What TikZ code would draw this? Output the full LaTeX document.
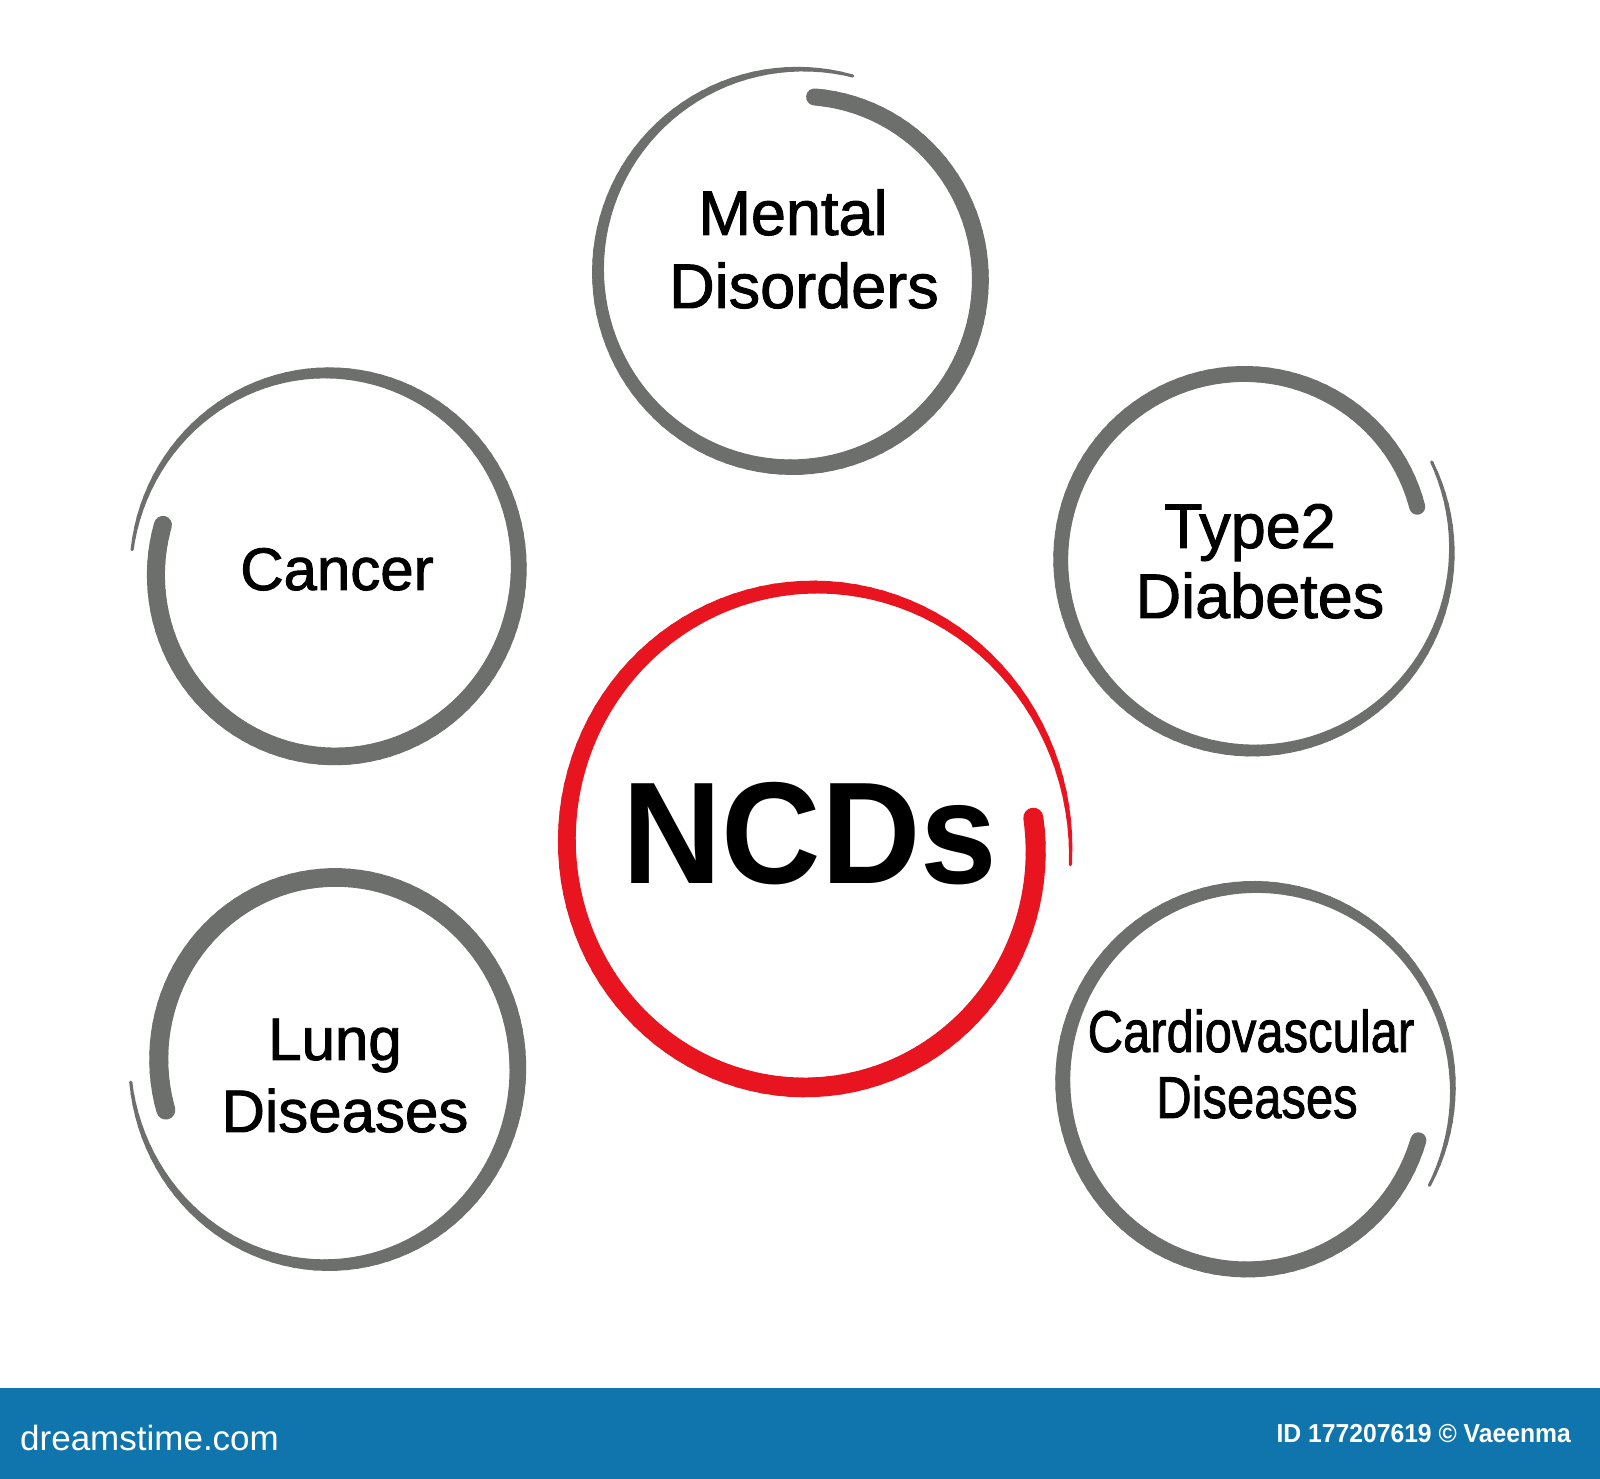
\documentclass[tikz,border=0pt]{standalone}
\usepackage{fontspec}
\usepackage{graphicx}
\setmainfont{Liberation Sans}
\newfontfamily\lblfont[FakeBold=1.5]{Liberation Sans}
\definecolor{ringgray}{RGB}{109,111,108}
\definecolor{ringred}{RGB}{232,20,32}
\definecolor{barblue}{RGB}{16,117,172}
% #1 cx, #2 cy (screen px), #3 rx, #4 ry, #5 start angle, #6 sweep, #7 growth, #8 start width, #9 end width
\newcommand\ringspiral[9]{%
  \foreach \k in {0,...,119}{%
    \pgfmathsetmacro\sa{\k/120}%
    \pgfmathsetmacro\sb{(\k+1)/120}%
    \pgfmathsetmacro\sm{(\k+0.5)/120}%
    \pgfmathsetmacro\da{(#7)*(\sa-0.5)}%
    \pgfmathsetmacro\db{(#7)*(\sb-0.5)}%
    \pgfmathsetmacro\pa{(#5)+(#6)*\sa}%
    \pgfmathsetmacro\pb{(#5)+(#6)*\sb}%
    \pgfmathsetmacro\ww{(#9)+((#8)-(#9))*(1-\sm*\sm*\sm)}%
    \draw[line width=\ww pt]
      ({(#1)+((#3)+(\da))*cos(\pa)},{1479-(#2)+((#4)+(\da))*sin(\pa)}) --
      ({(#1)+((#3)+(\db))*cos(\pb)},{1479-(#2)+((#4)+(\db))*sin(\pb)});
  }}
\tikzset{
  lbl/.style={inner sep=0pt, anchor=base, text=black},
  big/.style={font=\lblfont\fontsize{63}{75}\selectfont},
  mid/.style={font=\lblfont\fontsize{60}{72}\selectfont},
  card/.style={font=\lblfont\fontsize{59}{70}\selectfont},
  ncd/.style={font=\fontsize{145}{165}\selectfont\bfseries},
}
\begin{document}
\begin{tikzpicture}[x=1pt,y=1pt,line cap=round]
\fill[white] (0,0) rectangle (1600,1479);
\useasboundingbox (0,0) rectangle (1600,1479);

% rings
\begin{scope}[draw=ringgray]
  \ringspiral{796}{275}{192}{193}{84}{-370}{28}{17}{3}    % Mental Disorders
  \ringspiral{331}{571}{187}{191}{165}{369}{26}{18}{3}    % Cancer
  \ringspiral{1249}{555}{190}{190}{16}{371}{30}{16}{3}    % Type2 Diabetes
  \ringspiral{331}{1064}{186}{193}{195}{-370}{30}{19}{3}  % Lung Diseases
  \ringspiral{1251}{1085}{190}{193}{-18}{-371}{28}{16}{3} % Cardiovascular
\end{scope}
\begin{scope}[draw=ringred]
  \ringspiral{810}{846}{243}{250}{7}{-371}{36}{20}{3}     % NCDs
\end{scope}

% labels
\node[lbl,big] (mentalA) at (793,1244) {Mental};
\node[lbl,big] (mentalB) at (804,1171) {Disorders};
\node[lbl,mid] (cancer) at (337,889) {Cancer};
\node[lbl,big] (typeA) at (1250,931) {Type2};
\node[lbl,big] (typeB) at (1260,861) {Diabetes};
\node[lbl,mid] (lungA) at (335,419) {Lung};
\node[lbl,mid] (lungB) at (345,347) {Diseases};
\node[lbl,card] (cardA) at (1251,427) {\scalebox{0.83}[1]{Cardiovascular}};
\node[lbl,card] (cardB) at (1257,361) {\scalebox{0.83}[1]{Diseases}};
\node[lbl,ncd] (ncds) at (810,595) {\scalebox{0.95}[1]{NCDs}};

% bottom bar
\fill[barblue] (0,0) rectangle (1600,91);
\node[inner sep=0pt, anchor=base west, text=white, font=\fontsize{35}{40}\selectfont] (dt) at (20,28) {dreamstime.com};
\node[inner sep=0pt, anchor=base east, text=white, font=\fontsize{26}{30}\selectfont\bfseries] (id) at (1571,36) {\scalebox{0.95}[1]{ID 177207619 © Vaeenma}};
\end{tikzpicture}
\end{document}
